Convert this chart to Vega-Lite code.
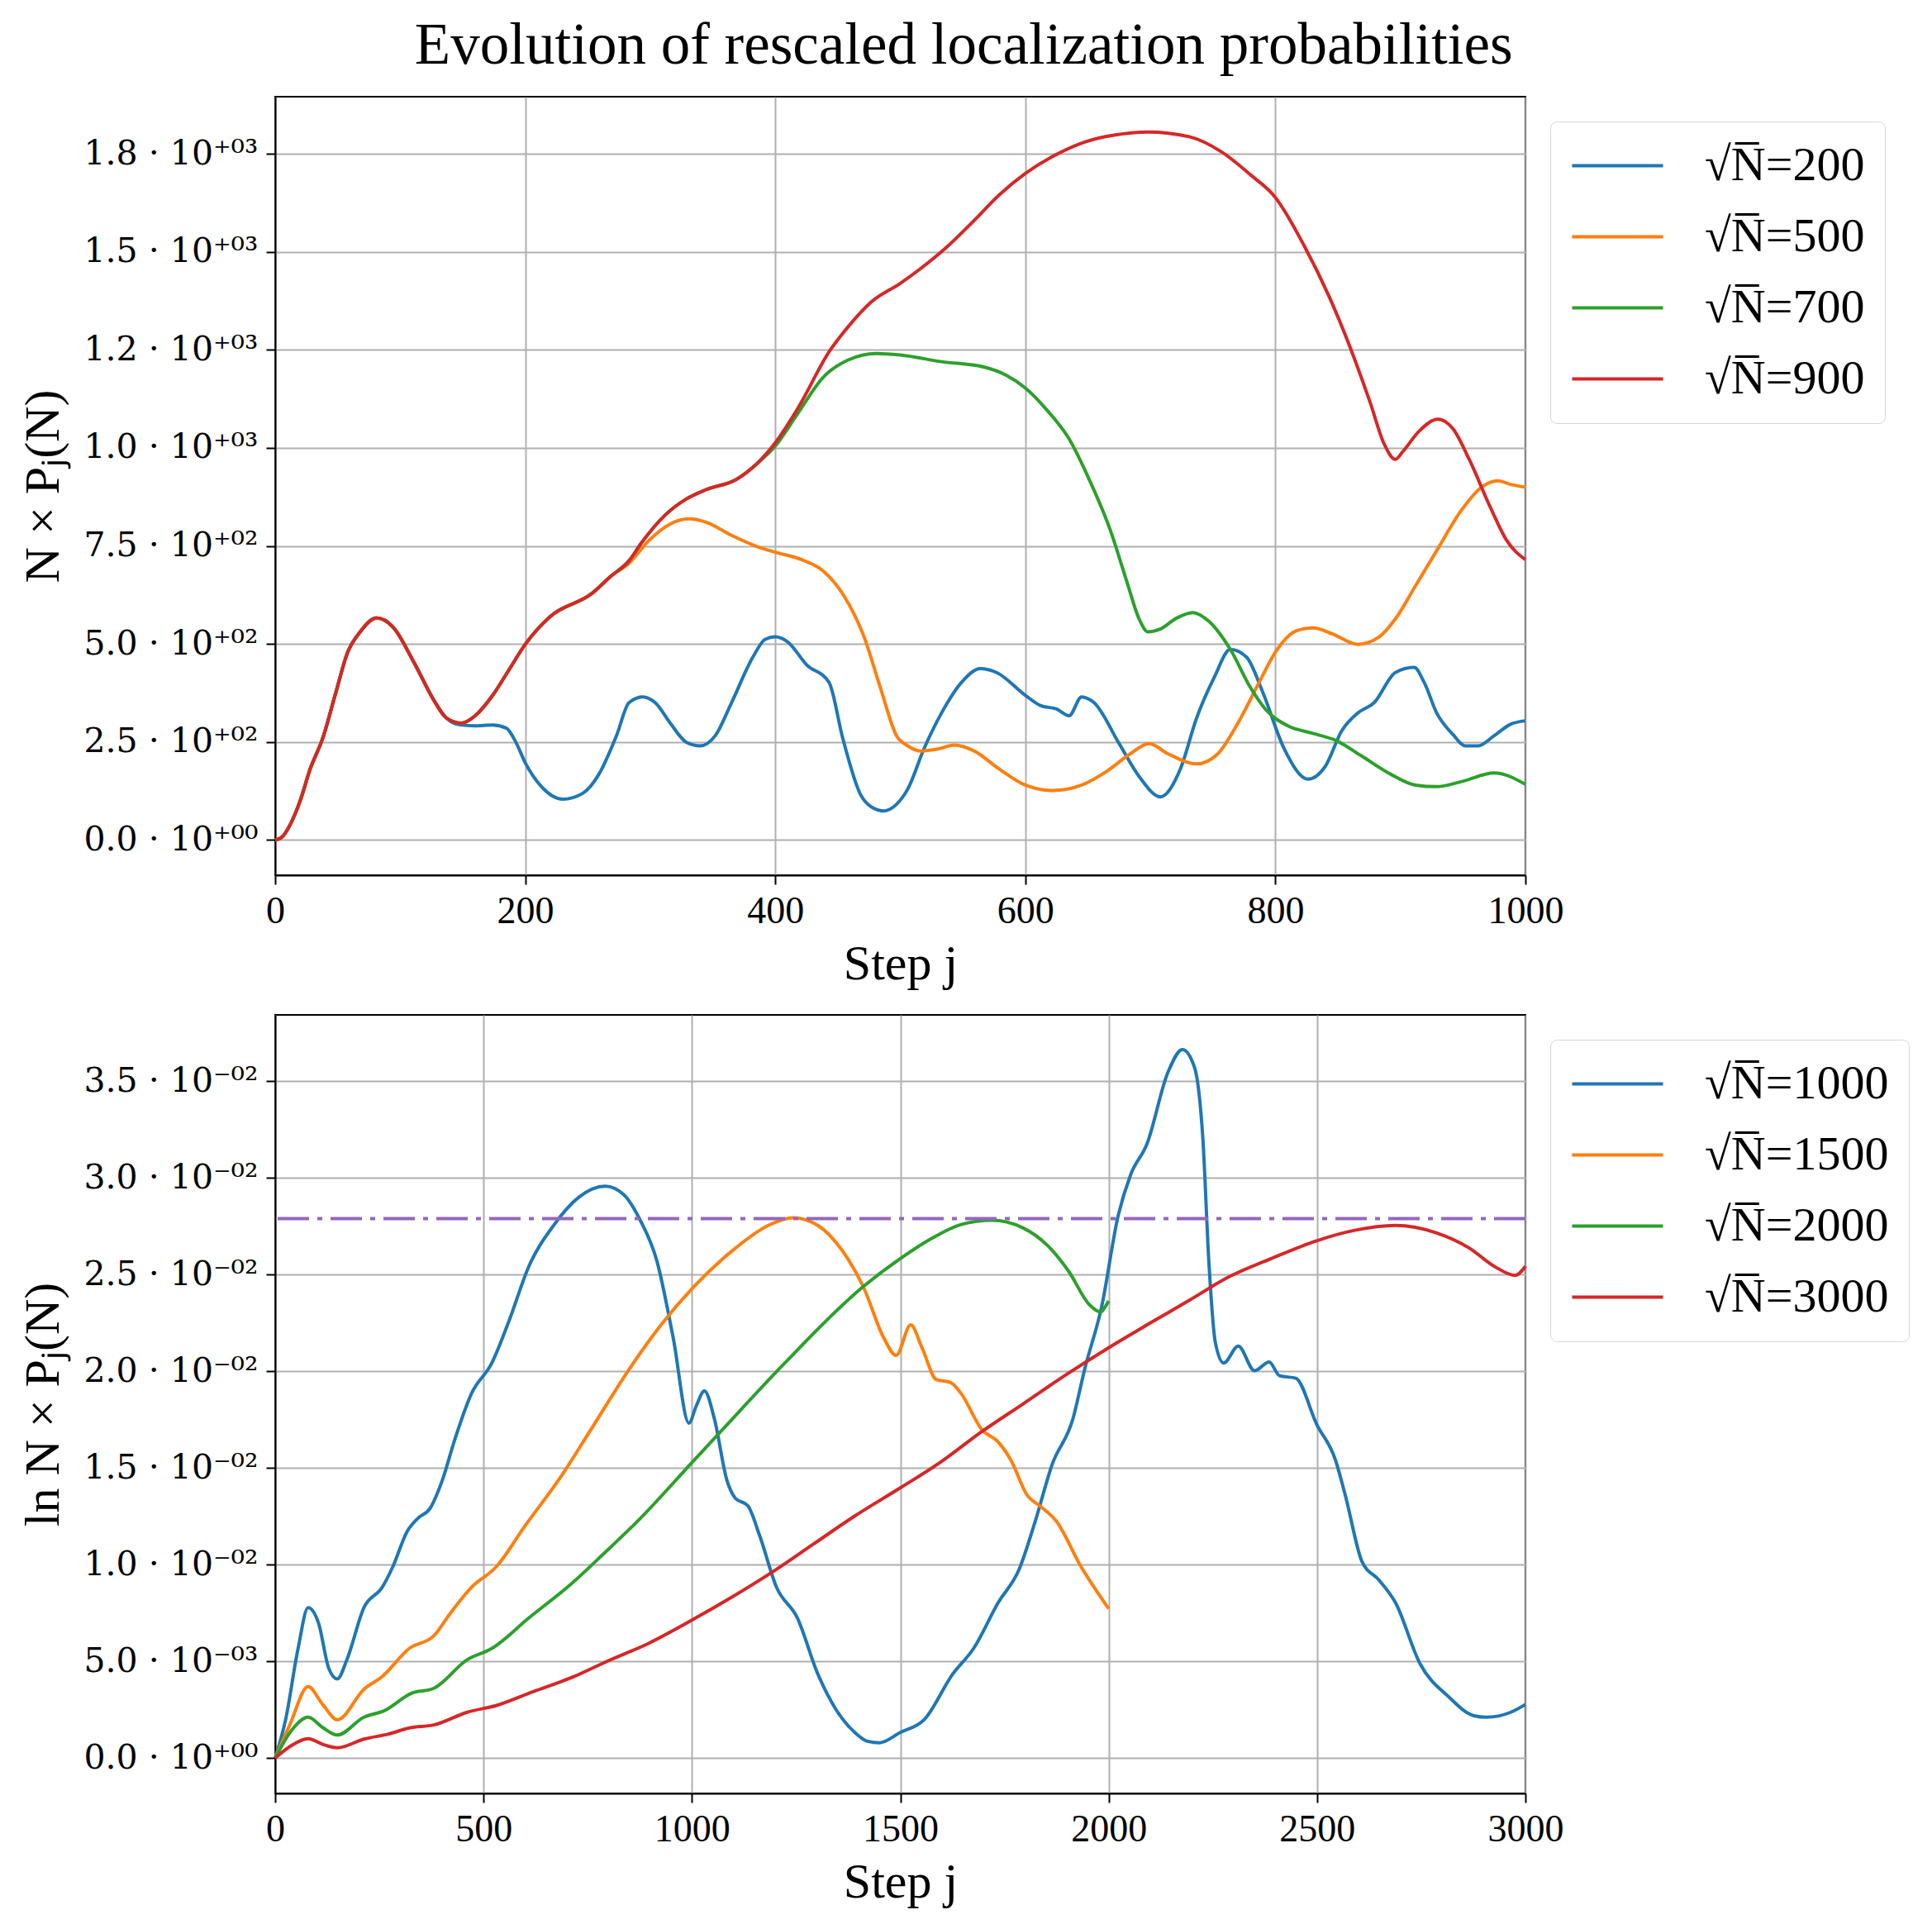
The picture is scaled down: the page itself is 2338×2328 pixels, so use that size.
{
  "$schema": "https://vega.github.io/schema/vega-lite/v6.json",
  "background": "white",
  "padding": {"left": 21, "top": 20, "right": 40, "bottom": 20},
  "title": {"text": "Evolution of rescaled localization probabilities", "fontSize": 71, "font": "Liberation Serif", "fontWeight": "normal", "anchor": "middle", "offset": 24, "color": "black"},
  "config": {
    "font": "Liberation Serif",
    "view": {"stroke": "black", "strokeWidth": 2},
    "axis": {"labelFont": "Liberation Serif", "titleFont": "Liberation Serif", "labelFontSize": 46, "titleFontSize": 60, "titleFontWeight": "normal", "labelColor": "black", "titleColor": "black", "domainColor": "black", "domainWidth": 2, "tickColor": "black", "tickWidth": 2, "tickSize": 11, "gridColor": "#b0b0b0", "gridWidth": 2, "labelPadding": 10, "titlePadding": 12, "labelFlush": false, "labelOverlap": false, "labelLimit": 500},
    "axisY": {"labelFont": "DejaVu Serif", "labelFontSize": 41, "titlePadding": 50},
    "legend": {"orient": "none", "legendX": 1543, "legendY": 30, "title": null, "labelFont": "Liberation Serif", "labelFontSize": 58, "labelLimit": 500, "labelColor": "black", "symbolType": "M-2,0H2", "symbolSize": 3025, "symbolStrokeWidth": 4, "symbolOffset": 28, "labelOffset": 76, "strokeColor": "#d6d6d6", "fillColor": "white", "padding": 24, "cornerRadius": 8, "rowPadding": 27}
  },
  "spacing": 30,
  "resolve": {"scale": {"color": "independent"}},
  "datasets": {
    "top": [
      {"s": "\u221aN\u0305=200", "j": 0, "v": 0}, {"s": "\u221aN\u0305=200", "j": 5, "v": 6}, {"s": "\u221aN\u0305=200", "j": 12, "v": 39}, {"s": "\u221aN\u0305=200", "j": 20, "v": 100}, {"s": "\u221aN\u0305=200", "j": 28, "v": 181}, {"s": "\u221aN\u0305=200", "j": 38, "v": 259}, {"s": "\u221aN\u0305=200", "j": 48, "v": 370}, {"s": "\u221aN\u0305=200", "j": 58, "v": 479}, {"s": "\u221aN\u0305=200", "j": 68, "v": 531}, {"s": "\u221aN\u0305=200", "j": 81, "v": 566}, {"s": "\u221aN\u0305=200", "j": 94, "v": 544}, {"s": "\u221aN\u0305=200", "j": 111, "v": 453}, {"s": "\u221aN\u0305=200", "j": 127, "v": 356}, {"s": "\u221aN\u0305=200", "j": 137, "v": 311}, {"s": "\u221aN\u0305=200", "j": 147, "v": 294}, {"s": "\u221aN\u0305=200", "j": 160, "v": 291}, {"s": "\u221aN\u0305=200", "j": 174, "v": 293}, {"s": "\u221aN\u0305=200", "j": 185, "v": 285}, {"s": "\u221aN\u0305=200", "j": 193, "v": 246}, {"s": "\u221aN\u0305=200", "j": 200, "v": 197}, {"s": "\u221aN\u0305=200", "j": 213, "v": 136}, {"s": "\u221aN\u0305=200", "j": 230, "v": 104}, {"s": "\u221aN\u0305=200", "j": 246, "v": 119}, {"s": "\u221aN\u0305=200", "j": 259, "v": 168}, {"s": "\u221aN\u0305=200", "j": 273, "v": 266}, {"s": "\u221aN\u0305=200", "j": 283, "v": 350}, {"s": "\u221aN\u0305=200", "j": 294, "v": 365}, {"s": "\u221aN\u0305=200", "j": 304, "v": 350}, {"s": "\u221aN\u0305=200", "j": 316, "v": 298}, {"s": "\u221aN\u0305=200", "j": 329, "v": 249}, {"s": "\u221aN\u0305=200", "j": 340, "v": 240}, {"s": "\u221aN\u0305=200", "j": 352, "v": 266}, {"s": "\u221aN\u0305=200", "j": 365, "v": 350}, {"s": "\u221aN\u0305=200", "j": 382, "v": 466}, {"s": "\u221aN\u0305=200", "j": 392, "v": 512}, {"s": "\u221aN\u0305=200", "j": 400, "v": 518}, {"s": "\u221aN\u0305=200", "j": 410, "v": 505}, {"s": "\u221aN\u0305=200", "j": 425, "v": 447}, {"s": "\u221aN\u0305=200", "j": 443, "v": 402}, {"s": "\u221aN\u0305=200", "j": 454, "v": 259}, {"s": "\u221aN\u0305=200", "j": 468, "v": 117}, {"s": "\u221aN\u0305=200", "j": 477, "v": 84}, {"s": "\u221aN\u0305=200", "j": 487, "v": 74}, {"s": "\u221aN\u0305=200", "j": 497, "v": 91}, {"s": "\u221aN\u0305=200", "j": 506, "v": 130}, {"s": "\u221aN\u0305=200", "j": 519, "v": 233}, {"s": "\u221aN\u0305=200", "j": 533, "v": 324}, {"s": "\u221aN\u0305=200", "j": 549, "v": 402}, {"s": "\u221aN\u0305=200", "j": 564, "v": 437}, {"s": "\u221aN\u0305=200", "j": 577, "v": 427}, {"s": "\u221aN\u0305=200", "j": 600, "v": 369}, {"s": "\u221aN\u0305=200", "j": 612, "v": 343}, {"s": "\u221aN\u0305=200", "j": 625, "v": 334}, {"s": "\u221aN\u0305=200", "j": 635, "v": 317}, {"s": "\u221aN\u0305=200", "j": 645, "v": 365}, {"s": "\u221aN\u0305=200", "j": 655, "v": 350}, {"s": "\u221aN\u0305=200", "j": 675, "v": 246}, {"s": "\u221aN\u0305=200", "j": 691, "v": 162}, {"s": "\u221aN\u0305=200", "j": 708, "v": 110}, {"s": "\u221aN\u0305=200", "j": 724, "v": 181}, {"s": "\u221aN\u0305=200", "j": 737, "v": 311}, {"s": "\u221aN\u0305=200", "j": 751, "v": 414}, {"s": "\u221aN\u0305=200", "j": 764, "v": 486}, {"s": "\u221aN\u0305=200", "j": 777, "v": 466}, {"s": "\u221aN\u0305=200", "j": 790, "v": 376}, {"s": "\u221aN\u0305=200", "j": 807, "v": 233}, {"s": "\u221aN\u0305=200", "j": 826, "v": 155}, {"s": "\u221aN\u0305=200", "j": 840, "v": 188}, {"s": "\u221aN\u0305=200", "j": 853, "v": 278}, {"s": "\u221aN\u0305=200", "j": 866, "v": 324}, {"s": "\u221aN\u0305=200", "j": 879, "v": 350}, {"s": "\u221aN\u0305=200", "j": 896, "v": 427}, {"s": "\u221aN\u0305=200", "j": 911, "v": 440}, {"s": "\u221aN\u0305=200", "j": 919, "v": 402}, {"s": "\u221aN\u0305=200", "j": 929, "v": 324}, {"s": "\u221aN\u0305=200", "j": 942, "v": 269}, {"s": "\u221aN\u0305=200", "j": 952, "v": 240}, {"s": "\u221aN\u0305=200", "j": 962, "v": 240}, {"s": "\u221aN\u0305=200", "j": 975, "v": 266}, {"s": "\u221aN\u0305=200", "j": 988, "v": 295}, {"s": "\u221aN\u0305=200", "j": 1000, "v": 304},

      {"s": "\u221aN\u0305=500", "j": 0, "v": 0}, {"s": "\u221aN\u0305=500", "j": 5, "v": 6}, {"s": "\u221aN\u0305=500", "j": 12, "v": 39}, {"s": "\u221aN\u0305=500", "j": 20, "v": 100}, {"s": "\u221aN\u0305=500", "j": 28, "v": 181}, {"s": "\u221aN\u0305=500", "j": 38, "v": 259}, {"s": "\u221aN\u0305=500", "j": 48, "v": 370}, {"s": "\u221aN\u0305=500", "j": 58, "v": 479}, {"s": "\u221aN\u0305=500", "j": 68, "v": 531}, {"s": "\u221aN\u0305=500", "j": 81, "v": 566}, {"s": "\u221aN\u0305=500", "j": 94, "v": 544}, {"s": "\u221aN\u0305=500", "j": 111, "v": 453}, {"s": "\u221aN\u0305=500", "j": 127, "v": 356}, {"s": "\u221aN\u0305=500", "j": 137, "v": 311}, {"s": "\u221aN\u0305=500", "j": 149, "v": 298}, {"s": "\u221aN\u0305=500", "j": 160, "v": 317}, {"s": "\u221aN\u0305=500", "j": 174, "v": 369}, {"s": "\u221aN\u0305=500", "j": 187, "v": 434}, {"s": "\u221aN\u0305=500", "j": 200, "v": 499}, {"s": "\u221aN\u0305=500", "j": 220, "v": 570}, {"s": "\u221aN\u0305=500", "j": 253, "v": 628}, {"s": "\u221aN\u0305=500", "j": 269, "v": 674}, {"s": "\u221aN\u0305=500", "j": 283, "v": 706}, {"s": "\u221aN\u0305=500", "j": 299, "v": 764}, {"s": "\u221aN\u0305=500", "j": 316, "v": 806}, {"s": "\u221aN\u0305=500", "j": 331, "v": 819}, {"s": "\u221aN\u0305=500", "j": 345, "v": 810}, {"s": "\u221aN\u0305=500", "j": 365, "v": 777}, {"s": "\u221aN\u0305=500", "j": 385, "v": 749}, {"s": "\u221aN\u0305=500", "j": 400, "v": 734}, {"s": "\u221aN\u0305=500", "j": 421, "v": 715}, {"s": "\u221aN\u0305=500", "j": 438, "v": 687}, {"s": "\u221aN\u0305=500", "j": 455, "v": 622}, {"s": "\u221aN\u0305=500", "j": 471, "v": 518}, {"s": "\u221aN\u0305=500", "j": 484, "v": 389}, {"s": "\u221aN\u0305=500", "j": 497, "v": 266}, {"s": "\u221aN\u0305=500", "j": 506, "v": 240}, {"s": "\u221aN\u0305=500", "j": 516, "v": 227}, {"s": "\u221aN\u0305=500", "j": 530, "v": 232}, {"s": "\u221aN\u0305=500", "j": 543, "v": 242}, {"s": "\u221aN\u0305=500", "j": 559, "v": 227}, {"s": "\u221aN\u0305=500", "j": 579, "v": 181}, {"s": "\u221aN\u0305=500", "j": 600, "v": 140}, {"s": "\u221aN\u0305=500", "j": 622, "v": 126}, {"s": "\u221aN\u0305=500", "j": 645, "v": 140}, {"s": "\u221aN\u0305=500", "j": 665, "v": 175}, {"s": "\u221aN\u0305=500", "j": 684, "v": 220}, {"s": "\u221aN\u0305=500", "j": 699, "v": 246}, {"s": "\u221aN\u0305=500", "j": 714, "v": 220}, {"s": "\u221aN\u0305=500", "j": 737, "v": 194}, {"s": "\u221aN\u0305=500", "j": 754, "v": 220}, {"s": "\u221aN\u0305=500", "j": 770, "v": 298}, {"s": "\u221aN\u0305=500", "j": 787, "v": 402}, {"s": "\u221aN\u0305=500", "j": 800, "v": 479}, {"s": "\u221aN\u0305=500", "j": 817, "v": 534}, {"s": "\u221aN\u0305=500", "j": 830, "v": 541}, {"s": "\u221aN\u0305=500", "j": 846, "v": 525}, {"s": "\u221aN\u0305=500", "j": 866, "v": 499}, {"s": "\u221aN\u0305=500", "j": 883, "v": 518}, {"s": "\u221aN\u0305=500", "j": 896, "v": 564}, {"s": "\u221aN\u0305=500", "j": 912, "v": 648}, {"s": "\u221aN\u0305=500", "j": 929, "v": 738}, {"s": "\u221aN\u0305=500", "j": 949, "v": 842}, {"s": "\u221aN\u0305=500", "j": 965, "v": 900}, {"s": "\u221aN\u0305=500", "j": 978, "v": 916}, {"s": "\u221aN\u0305=500", "j": 988, "v": 907}, {"s": "\u221aN\u0305=500", "j": 1000, "v": 900},

      {"s": "\u221aN\u0305=700", "j": 0, "v": 0}, {"s": "\u221aN\u0305=700", "j": 5, "v": 6}, {"s": "\u221aN\u0305=700", "j": 12, "v": 39}, {"s": "\u221aN\u0305=700", "j": 20, "v": 100}, {"s": "\u221aN\u0305=700", "j": 28, "v": 181}, {"s": "\u221aN\u0305=700", "j": 38, "v": 259}, {"s": "\u221aN\u0305=700", "j": 48, "v": 370}, {"s": "\u221aN\u0305=700", "j": 58, "v": 479}, {"s": "\u221aN\u0305=700", "j": 68, "v": 531}, {"s": "\u221aN\u0305=700", "j": 81, "v": 566}, {"s": "\u221aN\u0305=700", "j": 94, "v": 544}, {"s": "\u221aN\u0305=700", "j": 111, "v": 453}, {"s": "\u221aN\u0305=700", "j": 127, "v": 356}, {"s": "\u221aN\u0305=700", "j": 137, "v": 311}, {"s": "\u221aN\u0305=700", "j": 149, "v": 298}, {"s": "\u221aN\u0305=700", "j": 160, "v": 317}, {"s": "\u221aN\u0305=700", "j": 174, "v": 369}, {"s": "\u221aN\u0305=700", "j": 187, "v": 434}, {"s": "\u221aN\u0305=700", "j": 200, "v": 499}, {"s": "\u221aN\u0305=700", "j": 220, "v": 570}, {"s": "\u221aN\u0305=700", "j": 253, "v": 628}, {"s": "\u221aN\u0305=700", "j": 269, "v": 674}, {"s": "\u221aN\u0305=700", "j": 283, "v": 712}, {"s": "\u221aN\u0305=700", "j": 293, "v": 758}, {"s": "\u221aN\u0305=700", "j": 312, "v": 829}, {"s": "\u221aN\u0305=700", "j": 329, "v": 870}, {"s": "\u221aN\u0305=700", "j": 345, "v": 894}, {"s": "\u221aN\u0305=700", "j": 369, "v": 920}, {"s": "\u221aN\u0305=700", "j": 385, "v": 959}, {"s": "\u221aN\u0305=700", "j": 400, "v": 1005}, {"s": "\u221aN\u0305=700", "j": 418, "v": 1088}, {"s": "\u221aN\u0305=700", "j": 438, "v": 1179}, {"s": "\u221aN\u0305=700", "j": 458, "v": 1224}, {"s": "\u221aN\u0305=700", "j": 481, "v": 1241}, {"s": "\u221aN\u0305=700", "j": 500, "v": 1237}, {"s": "\u221aN\u0305=700", "j": 533, "v": 1220}, {"s": "\u221aN\u0305=700", "j": 566, "v": 1207}, {"s": "\u221aN\u0305=700", "j": 585, "v": 1185}, {"s": "\u221aN\u0305=700", "j": 600, "v": 1153}, {"s": "\u221aN\u0305=700", "j": 618, "v": 1094}, {"s": "\u221aN\u0305=700", "j": 635, "v": 1023}, {"s": "\u221aN\u0305=700", "j": 651, "v": 920}, {"s": "\u221aN\u0305=700", "j": 668, "v": 790}, {"s": "\u221aN\u0305=700", "j": 681, "v": 661}, {"s": "\u221aN\u0305=700", "j": 691, "v": 564}, {"s": "\u221aN\u0305=700", "j": 698, "v": 531}, {"s": "\u221aN\u0305=700", "j": 708, "v": 538}, {"s": "\u221aN\u0305=700", "j": 721, "v": 566}, {"s": "\u221aN\u0305=700", "j": 734, "v": 580}, {"s": "\u221aN\u0305=700", "j": 747, "v": 557}, {"s": "\u221aN\u0305=700", "j": 764, "v": 486}, {"s": "\u221aN\u0305=700", "j": 780, "v": 389}, {"s": "\u221aN\u0305=700", "j": 793, "v": 330}, {"s": "\u221aN\u0305=700", "j": 810, "v": 291}, {"s": "\u221aN\u0305=700", "j": 830, "v": 272}, {"s": "\u221aN\u0305=700", "j": 849, "v": 253}, {"s": "\u221aN\u0305=700", "j": 869, "v": 214}, {"s": "\u221aN\u0305=700", "j": 892, "v": 168}, {"s": "\u221aN\u0305=700", "j": 912, "v": 140}, {"s": "\u221aN\u0305=700", "j": 929, "v": 136}, {"s": "\u221aN\u0305=700", "j": 949, "v": 149}, {"s": "\u221aN\u0305=700", "j": 975, "v": 171}, {"s": "\u221aN\u0305=700", "j": 1000, "v": 142},

      {"s": "\u221aN\u0305=900", "j": 0, "v": 0}, {"s": "\u221aN\u0305=900", "j": 5, "v": 6}, {"s": "\u221aN\u0305=900", "j": 12, "v": 39}, {"s": "\u221aN\u0305=900", "j": 20, "v": 100}, {"s": "\u221aN\u0305=900", "j": 28, "v": 181}, {"s": "\u221aN\u0305=900", "j": 38, "v": 259}, {"s": "\u221aN\u0305=900", "j": 48, "v": 370}, {"s": "\u221aN\u0305=900", "j": 58, "v": 479}, {"s": "\u221aN\u0305=900", "j": 68, "v": 531}, {"s": "\u221aN\u0305=900", "j": 81, "v": 566}, {"s": "\u221aN\u0305=900", "j": 94, "v": 544}, {"s": "\u221aN\u0305=900", "j": 111, "v": 453}, {"s": "\u221aN\u0305=900", "j": 127, "v": 356}, {"s": "\u221aN\u0305=900", "j": 137, "v": 311}, {"s": "\u221aN\u0305=900", "j": 149, "v": 298}, {"s": "\u221aN\u0305=900", "j": 160, "v": 317}, {"s": "\u221aN\u0305=900", "j": 174, "v": 369}, {"s": "\u221aN\u0305=900", "j": 187, "v": 434}, {"s": "\u221aN\u0305=900", "j": 200, "v": 499}, {"s": "\u221aN\u0305=900", "j": 220, "v": 570}, {"s": "\u221aN\u0305=900", "j": 253, "v": 628}, {"s": "\u221aN\u0305=900", "j": 269, "v": 674}, {"s": "\u221aN\u0305=900", "j": 283, "v": 712}, {"s": "\u221aN\u0305=900", "j": 293, "v": 758}, {"s": "\u221aN\u0305=900", "j": 312, "v": 829}, {"s": "\u221aN\u0305=900", "j": 329, "v": 870}, {"s": "\u221aN\u0305=900", "j": 345, "v": 894}, {"s": "\u221aN\u0305=900", "j": 369, "v": 920}, {"s": "\u221aN\u0305=900", "j": 385, "v": 959}, {"s": "\u221aN\u0305=900", "j": 400, "v": 1013}, {"s": "\u221aN\u0305=900", "j": 418, "v": 1101}, {"s": "\u221aN\u0305=900", "j": 444, "v": 1250}, {"s": "\u221aN\u0305=900", "j": 458, "v": 1308}, {"s": "\u221aN\u0305=900", "j": 477, "v": 1373}, {"s": "\u221aN\u0305=900", "j": 500, "v": 1420}, {"s": "\u221aN\u0305=900", "j": 516, "v": 1457}, {"s": "\u221aN\u0305=900", "j": 536, "v": 1509}, {"s": "\u221aN\u0305=900", "j": 559, "v": 1580}, {"s": "\u221aN\u0305=900", "j": 579, "v": 1645}, {"s": "\u221aN\u0305=900", "j": 600, "v": 1700}, {"s": "\u221aN\u0305=900", "j": 625, "v": 1749}, {"s": "\u221aN\u0305=900", "j": 648, "v": 1781}, {"s": "\u221aN\u0305=900", "j": 671, "v": 1798}, {"s": "\u221aN\u0305=900", "j": 698, "v": 1806}, {"s": "\u221aN\u0305=900", "j": 731, "v": 1794}, {"s": "\u221aN\u0305=900", "j": 757, "v": 1755}, {"s": "\u221aN\u0305=900", "j": 780, "v": 1697}, {"s": "\u221aN\u0305=900", "j": 800, "v": 1639}, {"s": "\u221aN\u0305=900", "j": 823, "v": 1516}, {"s": "\u221aN\u0305=900", "j": 843, "v": 1386}, {"s": "\u221aN\u0305=900", "j": 859, "v": 1263}, {"s": "\u221aN\u0305=900", "j": 876, "v": 1114}, {"s": "\u221aN\u0305=900", "j": 887, "v": 1010}, {"s": "\u221aN\u0305=900", "j": 896, "v": 971}, {"s": "\u221aN\u0305=900", "j": 902, "v": 991}, {"s": "\u221aN\u0305=900", "j": 915, "v": 1043}, {"s": "\u221aN\u0305=900", "j": 930, "v": 1073}, {"s": "\u221aN\u0305=900", "j": 942, "v": 1049}, {"s": "\u221aN\u0305=900", "j": 955, "v": 971}, {"s": "\u221aN\u0305=900", "j": 972, "v": 848}, {"s": "\u221aN\u0305=900", "j": 985, "v": 764}, {"s": "\u221aN\u0305=900", "j": 1000, "v": 715}
    ],
    "bottom": [
      {"s": "\u221aN\u0305=1000", "j": 0, "v": 0}, {"s": "\u221aN\u0305=1000", "j": 25, "v": 0.00198}, {"s": "\u221aN\u0305=1000", "j": 55, "v": 0.00567}, {"s": "\u221aN\u0305=1000", "j": 79, "v": 0.00778}, {"s": "\u221aN\u0305=1000", "j": 104, "v": 0.00698}, {"s": "\u221aN\u0305=1000", "j": 129, "v": 0.00461}, {"s": "\u221aN\u0305=1000", "j": 149, "v": 0.00409}, {"s": "\u221aN\u0305=1000", "j": 173, "v": 0.00514}, {"s": "\u221aN\u0305=1000", "j": 213, "v": 0.00778}, {"s": "\u221aN\u0305=1000", "j": 257, "v": 0.00883}, {"s": "\u221aN\u0305=1000", "j": 282, "v": 0.00988}, {"s": "\u221aN\u0305=1000", "j": 317, "v": 0.01173}, {"s": "\u221aN\u0305=1000", "j": 342, "v": 0.01239}, {"s": "\u221aN\u0305=1000", "j": 372, "v": 0.01292}, {"s": "\u221aN\u0305=1000", "j": 401, "v": 0.01436}, {"s": "\u221aN\u0305=1000", "j": 431, "v": 0.01647}, {"s": "\u221aN\u0305=1000", "j": 471, "v": 0.01885}, {"s": "\u221aN\u0305=1000", "j": 520, "v": 0.02043}, {"s": "\u221aN\u0305=1000", "j": 560, "v": 0.02254}, {"s": "\u221aN\u0305=1000", "j": 609, "v": 0.02544}, {"s": "\u221aN\u0305=1000", "j": 668, "v": 0.02754}, {"s": "\u221aN\u0305=1000", "j": 728, "v": 0.02899}, {"s": "\u221aN\u0305=1000", "j": 792, "v": 0.02957}, {"s": "\u221aN\u0305=1000", "j": 837, "v": 0.02912}, {"s": "\u221aN\u0305=1000", "j": 876, "v": 0.02781}, {"s": "\u221aN\u0305=1000", "j": 916, "v": 0.0257}, {"s": "\u221aN\u0305=1000", "j": 955, "v": 0.02174}, {"s": "\u221aN\u0305=1000", "j": 993, "v": 0.01732}, {"s": "\u221aN\u0305=1000", "j": 1010, "v": 0.01819}, {"s": "\u221aN\u0305=1000", "j": 1030, "v": 0.01898}, {"s": "\u221aN\u0305=1000", "j": 1054, "v": 0.01753}, {"s": "\u221aN\u0305=1000", "j": 1084, "v": 0.01436}, {"s": "\u221aN\u0305=1000", "j": 1104, "v": 0.01344}, {"s": "\u221aN\u0305=1000", "j": 1134, "v": 0.01305}, {"s": "\u221aN\u0305=1000", "j": 1163, "v": 0.01147}, {"s": "\u221aN\u0305=1000", "j": 1203, "v": 0.00883}, {"s": "\u221aN\u0305=1000", "j": 1253, "v": 0.00725}, {"s": "\u221aN\u0305=1000", "j": 1302, "v": 0.00435}, {"s": "\u221aN\u0305=1000", "j": 1342, "v": 0.00264}, {"s": "\u221aN\u0305=1000", "j": 1391, "v": 0.00132}, {"s": "\u221aN\u0305=1000", "j": 1421, "v": 0.00087}, {"s": "\u221aN\u0305=1000", "j": 1450, "v": 0.00079}, {"s": "\u221aN\u0305=1000", "j": 1500, "v": 0.00132}, {"s": "\u221aN\u0305=1000", "j": 1557, "v": 0.00198}, {"s": "\u221aN\u0305=1000", "j": 1626, "v": 0.00435}, {"s": "\u221aN\u0305=1000", "j": 1676, "v": 0.00567}, {"s": "\u221aN\u0305=1000", "j": 1735, "v": 0.00804}, {"s": "\u221aN\u0305=1000", "j": 1785, "v": 0.00975}, {"s": "\u221aN\u0305=1000", "j": 1824, "v": 0.01226}, {"s": "\u221aN\u0305=1000", "j": 1864, "v": 0.01516}, {"s": "\u221aN\u0305=1000", "j": 1914, "v": 0.01753}, {"s": "\u221aN\u0305=1000", "j": 1943, "v": 0.02016}, {"s": "\u221aN\u0305=1000", "j": 1983, "v": 0.02333}, {"s": "\u221aN\u0305=1000", "j": 2023, "v": 0.02807}, {"s": "\u221aN\u0305=1000", "j": 2053, "v": 0.03018}, {"s": "\u221aN\u0305=1000", "j": 2092, "v": 0.03176}, {"s": "\u221aN\u0305=1000", "j": 2142, "v": 0.03545}, {"s": "\u221aN\u0305=1000", "j": 2177, "v": 0.03664}, {"s": "\u221aN\u0305=1000", "j": 2206, "v": 0.03571}, {"s": "\u221aN\u0305=1000", "j": 2226, "v": 0.03202}, {"s": "\u221aN\u0305=1000", "j": 2241, "v": 0.02543}, {"s": "\u221aN\u0305=1000", "j": 2256, "v": 0.02148}, {"s": "\u221aN\u0305=1000", "j": 2276, "v": 0.02043}, {"s": "\u221aN\u0305=1000", "j": 2311, "v": 0.0213}, {"s": "\u221aN\u0305=1000", "j": 2350, "v": 0.02003}, {"s": "\u221aN\u0305=1000", "j": 2385, "v": 0.02048}, {"s": "\u221aN\u0305=1000", "j": 2410, "v": 0.01977}, {"s": "\u221aN\u0305=1000", "j": 2449, "v": 0.01964}, {"s": "\u221aN\u0305=1000", "j": 2499, "v": 0.01726}, {"s": "\u221aN\u0305=1000", "j": 2544, "v": 0.01542}, {"s": "\u221aN\u0305=1000", "j": 2568, "v": 0.01357}, {"s": "\u221aN\u0305=1000", "j": 2608, "v": 0.01015}, {"s": "\u221aN\u0305=1000", "j": 2648, "v": 0.00922}, {"s": "\u221aN\u0305=1000", "j": 2688, "v": 0.00804}, {"s": "\u221aN\u0305=1000", "j": 2747, "v": 0.00488}, {"s": "\u221aN\u0305=1000", "j": 2816, "v": 0.00316}, {"s": "\u221aN\u0305=1000", "j": 2876, "v": 0.00219}, {"s": "\u221aN\u0305=1000", "j": 2906, "v": 0.00211}, {"s": "\u221aN\u0305=1000", "j": 2965, "v": 0.00237}, {"s": "\u221aN\u0305=1000", "j": 3000, "v": 0.00277},

      {"s": "\u221aN\u0305=1500", "j": 0, "v": 0}, {"s": "\u221aN\u0305=1500", "j": 35, "v": 0.00171}, {"s": "\u221aN\u0305=1500", "j": 79, "v": 0.00369}, {"s": "\u221aN\u0305=1500", "j": 114, "v": 0.00277}, {"s": "\u221aN\u0305=1500", "j": 149, "v": 0.00198}, {"s": "\u221aN\u0305=1500", "j": 213, "v": 0.00356}, {"s": "\u221aN\u0305=1500", "j": 257, "v": 0.00422}, {"s": "\u221aN\u0305=1500", "j": 322, "v": 0.00567}, {"s": "\u221aN\u0305=1500", "j": 381, "v": 0.00633}, {"s": "\u221aN\u0305=1500", "j": 421, "v": 0.00751}, {"s": "\u221aN\u0305=1500", "j": 471, "v": 0.00883}, {"s": "\u221aN\u0305=1500", "j": 530, "v": 0.00988}, {"s": "\u221aN\u0305=1500", "j": 599, "v": 0.01199}, {"s": "\u221aN\u0305=1500", "j": 688, "v": 0.01463}, {"s": "\u221aN\u0305=1500", "j": 758, "v": 0.017}, {"s": "\u221aN\u0305=1500", "j": 847, "v": 0.02003}, {"s": "\u221aN\u0305=1500", "j": 926, "v": 0.0224}, {"s": "\u221aN\u0305=1500", "j": 1005, "v": 0.02438}, {"s": "\u221aN\u0305=1500", "j": 1104, "v": 0.02636}, {"s": "\u221aN\u0305=1500", "j": 1183, "v": 0.02754}, {"s": "\u221aN\u0305=1500", "j": 1243, "v": 0.02794}, {"s": "\u221aN\u0305=1500", "j": 1302, "v": 0.02754}, {"s": "\u221aN\u0305=1500", "j": 1361, "v": 0.02623}, {"s": "\u221aN\u0305=1500", "j": 1411, "v": 0.02438}, {"s": "\u221aN\u0305=1500", "j": 1460, "v": 0.02174}, {"s": "\u221aN\u0305=1500", "j": 1490, "v": 0.02082}, {"s": "\u221aN\u0305=1500", "j": 1525, "v": 0.0224}, {"s": "\u221aN\u0305=1500", "j": 1552, "v": 0.02122}, {"s": "\u221aN\u0305=1500", "j": 1586, "v": 0.01958}, {"s": "\u221aN\u0305=1500", "j": 1621, "v": 0.01942}, {"s": "\u221aN\u0305=1500", "j": 1646, "v": 0.01885}, {"s": "\u221aN\u0305=1500", "j": 1695, "v": 0.017}, {"s": "\u221aN\u0305=1500", "j": 1735, "v": 0.01634}, {"s": "\u221aN\u0305=1500", "j": 1765, "v": 0.01542}, {"s": "\u221aN\u0305=1500", "j": 1805, "v": 0.01357}, {"s": "\u221aN\u0305=1500", "j": 1834, "v": 0.01305}, {"s": "\u221aN\u0305=1500", "j": 1874, "v": 0.01226}, {"s": "\u221aN\u0305=1500", "j": 1934, "v": 0.00988}, {"s": "\u221aN\u0305=1500", "j": 1973, "v": 0.00857}, {"s": "\u221aN\u0305=1500", "j": 2000, "v": 0.00772},

      {"s": "\u221aN\u0305=2000", "j": 0, "v": 0}, {"s": "\u221aN\u0305=2000", "j": 40, "v": 0.00145}, {"s": "\u221aN\u0305=2000", "j": 79, "v": 0.00211}, {"s": "\u221aN\u0305=2000", "j": 114, "v": 0.00158}, {"s": "\u221aN\u0305=2000", "j": 149, "v": 0.00119}, {"s": "\u221aN\u0305=2000", "j": 213, "v": 0.00211}, {"s": "\u221aN\u0305=2000", "j": 262, "v": 0.00245}, {"s": "\u221aN\u0305=2000", "j": 327, "v": 0.00335}, {"s": "\u221aN\u0305=2000", "j": 381, "v": 0.00361}, {"s": "\u221aN\u0305=2000", "j": 461, "v": 0.00509}, {"s": "\u221aN\u0305=2000", "j": 520, "v": 0.00567}, {"s": "\u221aN\u0305=2000", "j": 609, "v": 0.00725}, {"s": "\u221aN\u0305=2000", "j": 708, "v": 0.00896}, {"s": "\u221aN\u0305=2000", "j": 787, "v": 0.01054}, {"s": "\u221aN\u0305=2000", "j": 876, "v": 0.01239}, {"s": "\u221aN\u0305=2000", "j": 995, "v": 0.01516}, {"s": "\u221aN\u0305=2000", "j": 1074, "v": 0.017}, {"s": "\u221aN\u0305=2000", "j": 1223, "v": 0.02043}, {"s": "\u221aN\u0305=2000", "j": 1411, "v": 0.02438}, {"s": "\u221aN\u0305=2000", "j": 1500, "v": 0.02583}, {"s": "\u221aN\u0305=2000", "j": 1576, "v": 0.02688}, {"s": "\u221aN\u0305=2000", "j": 1646, "v": 0.02759}, {"s": "\u221aN\u0305=2000", "j": 1720, "v": 0.02781}, {"s": "\u221aN\u0305=2000", "j": 1795, "v": 0.02741}, {"s": "\u221aN\u0305=2000", "j": 1854, "v": 0.02649}, {"s": "\u221aN\u0305=2000", "j": 1904, "v": 0.02517}, {"s": "\u221aN\u0305=2000", "j": 1953, "v": 0.02346}, {"s": "\u221aN\u0305=2000", "j": 1981, "v": 0.02306}, {"s": "\u221aN\u0305=2000", "j": 1993, "v": 0.02338}, {"s": "\u221aN\u0305=2000", "j": 2000, "v": 0.02364},

      {"s": "\u221aN\u0305=3000", "j": 0, "v": 0}, {"s": "\u221aN\u0305=3000", "j": 40, "v": 0.00066}, {"s": "\u221aN\u0305=3000", "j": 79, "v": 0.001}, {"s": "\u221aN\u0305=3000", "j": 114, "v": 0.00071}, {"s": "\u221aN\u0305=3000", "j": 149, "v": 0.00053}, {"s": "\u221aN\u0305=3000", "j": 213, "v": 0.00098}, {"s": "\u221aN\u0305=3000", "j": 272, "v": 0.00124}, {"s": "\u221aN\u0305=3000", "j": 322, "v": 0.00156}, {"s": "\u221aN\u0305=3000", "j": 381, "v": 0.00171}, {"s": "\u221aN\u0305=3000", "j": 461, "v": 0.00237}, {"s": "\u221aN\u0305=3000", "j": 530, "v": 0.00271}, {"s": "\u221aN\u0305=3000", "j": 619, "v": 0.00343}, {"s": "\u221aN\u0305=3000", "j": 718, "v": 0.00422}, {"s": "\u221aN\u0305=3000", "j": 797, "v": 0.00501}, {"s": "\u221aN\u0305=3000", "j": 896, "v": 0.00593}, {"s": "\u221aN\u0305=3000", "j": 999, "v": 0.00712}, {"s": "\u221aN\u0305=3000", "j": 1094, "v": 0.0083}, {"s": "\u221aN\u0305=3000", "j": 1193, "v": 0.00962}, {"s": "\u221aN\u0305=3000", "j": 1292, "v": 0.01107}, {"s": "\u221aN\u0305=3000", "j": 1391, "v": 0.01252}, {"s": "\u221aN\u0305=3000", "j": 1500, "v": 0.01397}, {"s": "\u221aN\u0305=3000", "j": 1596, "v": 0.01529}, {"s": "\u221aN\u0305=3000", "j": 1695, "v": 0.01687}, {"s": "\u221aN\u0305=3000", "j": 1795, "v": 0.01832}, {"s": "\u221aN\u0305=3000", "j": 1894, "v": 0.01977}, {"s": "\u221aN\u0305=3000", "j": 2000, "v": 0.02122}, {"s": "\u221aN\u0305=3000", "j": 2092, "v": 0.0224}, {"s": "\u221aN\u0305=3000", "j": 2191, "v": 0.02364}, {"s": "\u221aN\u0305=3000", "j": 2291, "v": 0.02491}, {"s": "\u221aN\u0305=3000", "j": 2390, "v": 0.02583}, {"s": "\u221aN\u0305=3000", "j": 2499, "v": 0.02675}, {"s": "\u221aN\u0305=3000", "j": 2588, "v": 0.02728}, {"s": "\u221aN\u0305=3000", "j": 2688, "v": 0.02754}, {"s": "\u221aN\u0305=3000", "j": 2787, "v": 0.02715}, {"s": "\u221aN\u0305=3000", "j": 2866, "v": 0.02636}, {"s": "\u221aN\u0305=3000", "j": 2925, "v": 0.02543}, {"s": "\u221aN\u0305=3000", "j": 2975, "v": 0.02496}, {"s": "\u221aN\u0305=3000", "j": 3000, "v": 0.02543}
    ],
    "ref": [{"level": 0.0279}]
  },
  "vconcat": [
    {
      "width": 1513,
      "height": 942,
      "data": {"name": "top"},
      "mark": {"type": "line", "strokeWidth": 4, "interpolate": "monotone"},
      "encoding": {
        "x": {"field": "j", "type": "quantitative", "scale": {"domain": [0, 1000], "nice": false, "zero": false}, "axis": {"title": "Step j", "format": "d", "values": [0, 200, 400, 600, 800, 1000]}},
        "y": {"field": "v", "type": "quantitative", "scale": {"domain": [-90, 1896], "nice": false, "zero": false}, "axis": {"title": "N \u00d7 P\u2c7c(N)", "values": [0, 250, 500, 750, 1000, 1250, 1500, 1750], "labelExpr": "['0.0 \u00b7 10\u207a\u2070\u2070','2.5 \u00b7 10\u207a\u2070\u00b2','5.0 \u00b7 10\u207a\u2070\u00b2','7.5 \u00b7 10\u207a\u2070\u00b2','1.0 \u00b7 10\u207a\u2070\u00b3','1.2 \u00b7 10\u207a\u2070\u00b3','1.5 \u00b7 10\u207a\u2070\u00b3','1.8 \u00b7 10\u207a\u2070\u00b3'][round(datum.value/250)]"}},
        "color": {"field": "s", "type": "nominal", "scale": {"domain": ["\u221aN\u0305=200", "\u221aN\u0305=500", "\u221aN\u0305=700", "\u221aN\u0305=900"], "range": ["#1f77b4", "#ff7f0e", "#2ca02c", "#d62728"]}, "legend": {"orient": "none", "legendX": 1543, "legendY": 30}}
      }
    },
    {
      "width": 1513,
      "height": 942,
      "layer": [
        {
          "data": {"name": "bottom"},
          "mark": {"type": "line", "strokeWidth": 4, "interpolate": "monotone"},
          "encoding": {
            "x": {"field": "j", "type": "quantitative", "scale": {"domain": [0, 3000], "nice": false, "zero": false}, "axis": {"title": "Step j", "format": "d", "values": [0, 500, 1000, 1500, 2000, 2500, 3000]}},
            "y": {"field": "v", "type": "quantitative", "scale": {"domain": [-0.00183, 0.03843], "nice": false, "zero": false}, "axis": {"title": "ln N \u00d7 P\u2c7c(N)", "values": [0, 0.005, 0.01, 0.015, 0.02, 0.025, 0.03, 0.035], "labelExpr": "['0.0 \u00b7 10\u207a\u2070\u2070','5.0 \u00b7 10\u207b\u2070\u00b3','1.0 \u00b7 10\u207b\u2070\u00b2','1.5 \u00b7 10\u207b\u2070\u00b2','2.0 \u00b7 10\u207b\u2070\u00b2','2.5 \u00b7 10\u207b\u2070\u00b2','3.0 \u00b7 10\u207b\u2070\u00b2','3.5 \u00b7 10\u207b\u2070\u00b2'][round(datum.value*200)]"}},
            "color": {"field": "s", "type": "nominal", "scale": {"domain": ["\u221aN\u0305=1000", "\u221aN\u0305=1500", "\u221aN\u0305=2000", "\u221aN\u0305=3000"], "range": ["#1f77b4", "#ff7f0e", "#2ca02c", "#d62728"]}, "legend": {"orient": "none", "legendX": 1543, "legendY": 30}}
          }
        },
        {
          "data": {"name": "ref"},
          "mark": {"type": "rule", "color": "#9467bd", "strokeWidth": 4, "strokeDash": [38, 10, 6, 10]},
          "encoding": {"y": {"field": "level", "type": "quantitative"}}
        }
      ]
    }
  ]
}
